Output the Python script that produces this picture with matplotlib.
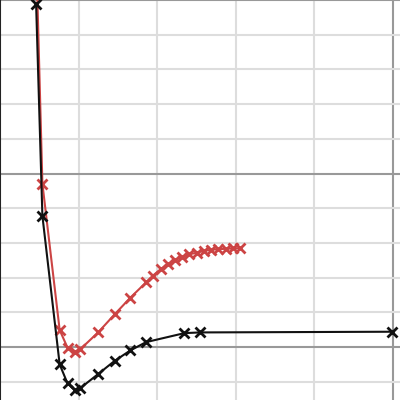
import matplotlib
matplotlib.use("Agg")
import matplotlib.pyplot as plt
import numpy as np

# Black series
black_x = [0.46, 0.54, 0.76, 0.86, 0.95, 1.02, 1.25, 1.46, 1.66, 1.86, 2.35, 2.55, 4.99]
black_y = [9.88, 3.78, -0.50, -1.05, -1.24, -1.19, -0.78, -0.40, -0.10, 0.14, 0.40, 0.42, 0.44]

# Red series
red_x = [0.46, 0.54, 0.76, 0.86, 0.95, 1.02, 1.25, 1.46, 1.66, 1.86, 1.95, 2.05,
         2.14, 2.23, 2.32, 2.41, 2.51, 2.60, 2.69, 2.78, 2.88, 2.97, 3.06]
red_y = [11.38, 4.71, 0.49, -0.02, -0.14, -0.07, 0.42, 0.94, 1.42, 1.86, 2.06, 2.25,
         2.39, 2.51, 2.59, 2.67, 2.72, 2.77, 2.80, 2.82, 2.83, 2.84, 2.85]

fig = plt.figure(figsize=(4, 4), dpi=100)
ax = fig.add_axes([0, 0, 1, 1])
ax.set_xlim(0, 400 / 78.5)
ax.set_ylim(-53 / 34.7, 347 / 34.7)

# grid: minor every 1, major every 5
for xv in range(1, 6):
    c = '#999999' if xv % 5 == 0 else '#dddddd'
    ax.axvline(xv, color=c, lw=1.5, zorder=0)
for yv in range(-1, 11):
    c = '#999999' if yv % 5 == 0 else '#dddddd'
    ax.axhline(yv, color=c, lw=1.5, zorder=0)

ax.plot(red_x, red_y, color='#cc4444', lw=1.5, marker='x', ms=7, mew=2, zorder=2)
ax.plot(black_x, black_y, color='#111111', lw=1.5, marker='x', ms=7, mew=2, zorder=3)

for s in ['top', 'right', 'bottom']:
    ax.spines[s].set_visible(False)
ax.spines['left'].set_color('#222222')
ax.spines['left'].set_linewidth(1.5)
ax.set_xticks([])
ax.set_yticks([])

fig.savefig('out.png', dpi=100)
